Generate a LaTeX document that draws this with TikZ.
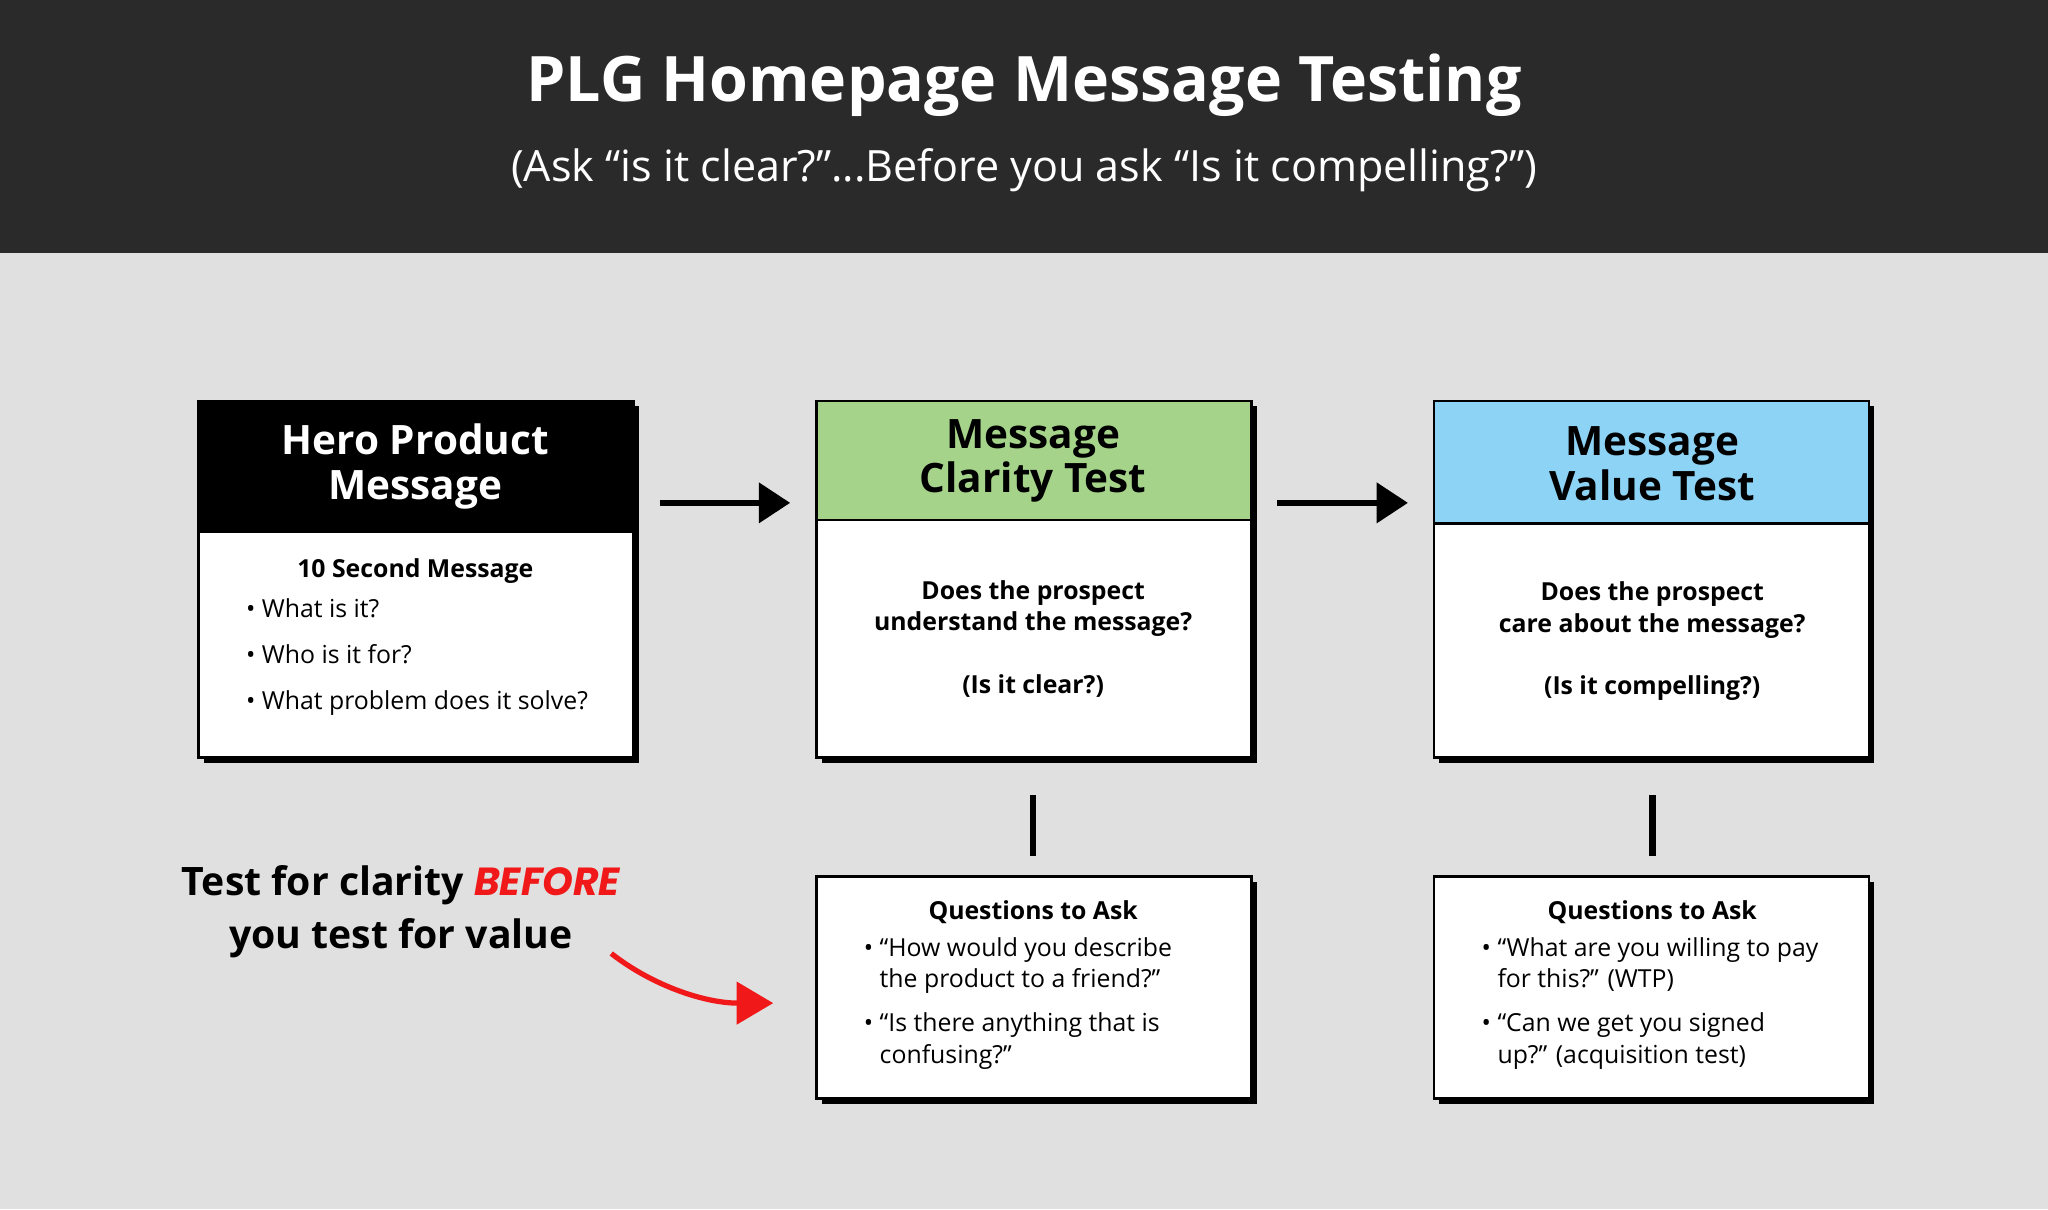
\documentclass[tikz,border=0pt]{standalone}
\usepackage{fontspec}
\setmainfont{Open Sans}
\newfontfamily\bfi{Poppins}
\usetikzlibrary{arrows.meta}
\definecolor{hdr}{HTML}{2A2A2A}
\definecolor{bg}{HTML}{E0E0E0}
\definecolor{grn}{HTML}{A5D38A}
\definecolor{blu}{HTML}{8DD3F5}
\definecolor{redd}{HTML}{F01818}
\begin{document}
\begin{tikzpicture}[x=1pt,y=-1pt,
  box/.style={draw=black,line width=2pt,fill=white},
  shad/.style={fill=black},
  htext/.style={font=\fontsize{31}{34}\selectfont\bfseries,align=center},
  btext/.style={font=\fontsize{19}{24}\selectfont,align=left},
  arr/.style={line width=5pt,-{Triangle[length=24pt,width=30pt]}},
  bar/.style={line width=5pt}]
\useasboundingbox (0,0) rectangle (1568,926);
\fill[bg] (0,0) rectangle (1568,926);
\fill[hdr] (0,0) rectangle (1568,194);
\node[white,font=\fontsize{48}{52}\selectfont\bfseries] (title) at (784,65) {PLG Homepage Message Testing};
\node[white,font=\fontsize{33}{36}\selectfont] (sub) at (784,130) {(Ask “is it clear?”...Before you ask “Is it compelling?”)};
% box 1
\fill[shad] (156,311) rectangle (489,584);
\draw[box] (152,307) rectangle (485,580);
\fill[black] (152,307) rectangle (485,408);
\node[htext,white] (h1) at (318,357) {Hero Product\\Message};
\node[font=\fontsize{19}{22}\selectfont\bfseries] (b1t) at (318,437) {10 Second Message};
\node[btext,anchor=north west] (b1) at (172,455) {\begin{minipage}{300pt}\begin{itemize}\setlength{\itemsep}{7pt}\setlength{\leftmargini}{18pt}\item What is it?\item Who is it for?\item What problem does it solve?\end{itemize}\end{minipage}};
% box 2
\fill[shad] (629,311) rectangle (962,584);
\draw[box] (625,307) rectangle (958,580);
\draw[box,fill=grn] (625,307) rectangle (958,398);
\node[htext] (h2) at (791,353) {Message\\Clarity Test};
\node[font=\fontsize{19}{24}\selectfont\bfseries,align=center] (b2) at (791,489) {Does the prospect\\understand the message?\\[24pt](Is it clear?)};
% box 3
\fill[shad] (1102,311) rectangle (1435,584);
\draw[box] (1098,307) rectangle (1431,580);
\draw[box,fill=blu] (1098,307) rectangle (1431,401);
\node[htext] (h3) at (1265,355) {Message\\Value Test};
\node[font=\fontsize{19}{24}\selectfont\bfseries,align=center] (b3) at (1265,491) {Does the prospect\\care about the message?\\[24pt](Is it compelling?)};
% arrows
\coordinate (a1s) at (505,385); \coordinate (a1e) at (605,385);
\coordinate (a2s) at (978,385); \coordinate (a2e) at (1078,385);
\draw[arr] (a1s) -- (a1e);
\draw[arr] (a2s) -- (a2e);
\coordinate (v1s) at (791,609); \coordinate (v1e) at (791,655);
\coordinate (v2s) at (1265,609); \coordinate (v2e) at (1265,655);
\draw[bar] (v1s) -- (v1e);
\draw[bar] (v2s) -- (v2e);
% bottom boxes
\fill[shad] (629,675) rectangle (962,845);
\draw[box] (625,671) rectangle (958,841);
\node[font=\fontsize{19}{22}\selectfont\bfseries] (q1t) at (791,698) {Questions to Ask};
\node[btext,anchor=north west] (q1) at (645,714) {\begin{minipage}{300pt}\begin{itemize}\setlength{\itemsep}{6pt}\setlength{\leftmargini}{26pt}\item “How would you describe\\the product to a friend?”\item “Is there anything that is\\confusing?”\end{itemize}\end{minipage}};
\fill[shad] (1102,675) rectangle (1435,845);
\draw[box] (1098,671) rectangle (1431,841);
\node[font=\fontsize{19}{22}\selectfont\bfseries] (q2t) at (1265,698) {Questions to Ask};
\node[btext,anchor=north west] (q2) at (1118,714) {\begin{minipage}{300pt}\begin{itemize}\setlength{\itemsep}{6pt}\setlength{\leftmargini}{26pt}\item “What are you willing to pay\\for this?” (WTP)\item “Can we get you signed\\up?” (acquisition test)\end{itemize}\end{minipage}};
% left note
\node[font=\fontsize{30}{40}\selectfont\bfseries,align=center] (note) at (307,698) {Test for clarity {\bfi\itshape\bfseries\color{redd}BEFORE}\\you test for value};
\coordinate (rs) at (468,730); \coordinate (re) at (592,768);
\draw[redd,line width=4pt,-{Triangle[length=28pt,width=32pt]}] (rs) .. controls (500,755) and (540,768) .. (re);
\end{tikzpicture}
\end{document}
